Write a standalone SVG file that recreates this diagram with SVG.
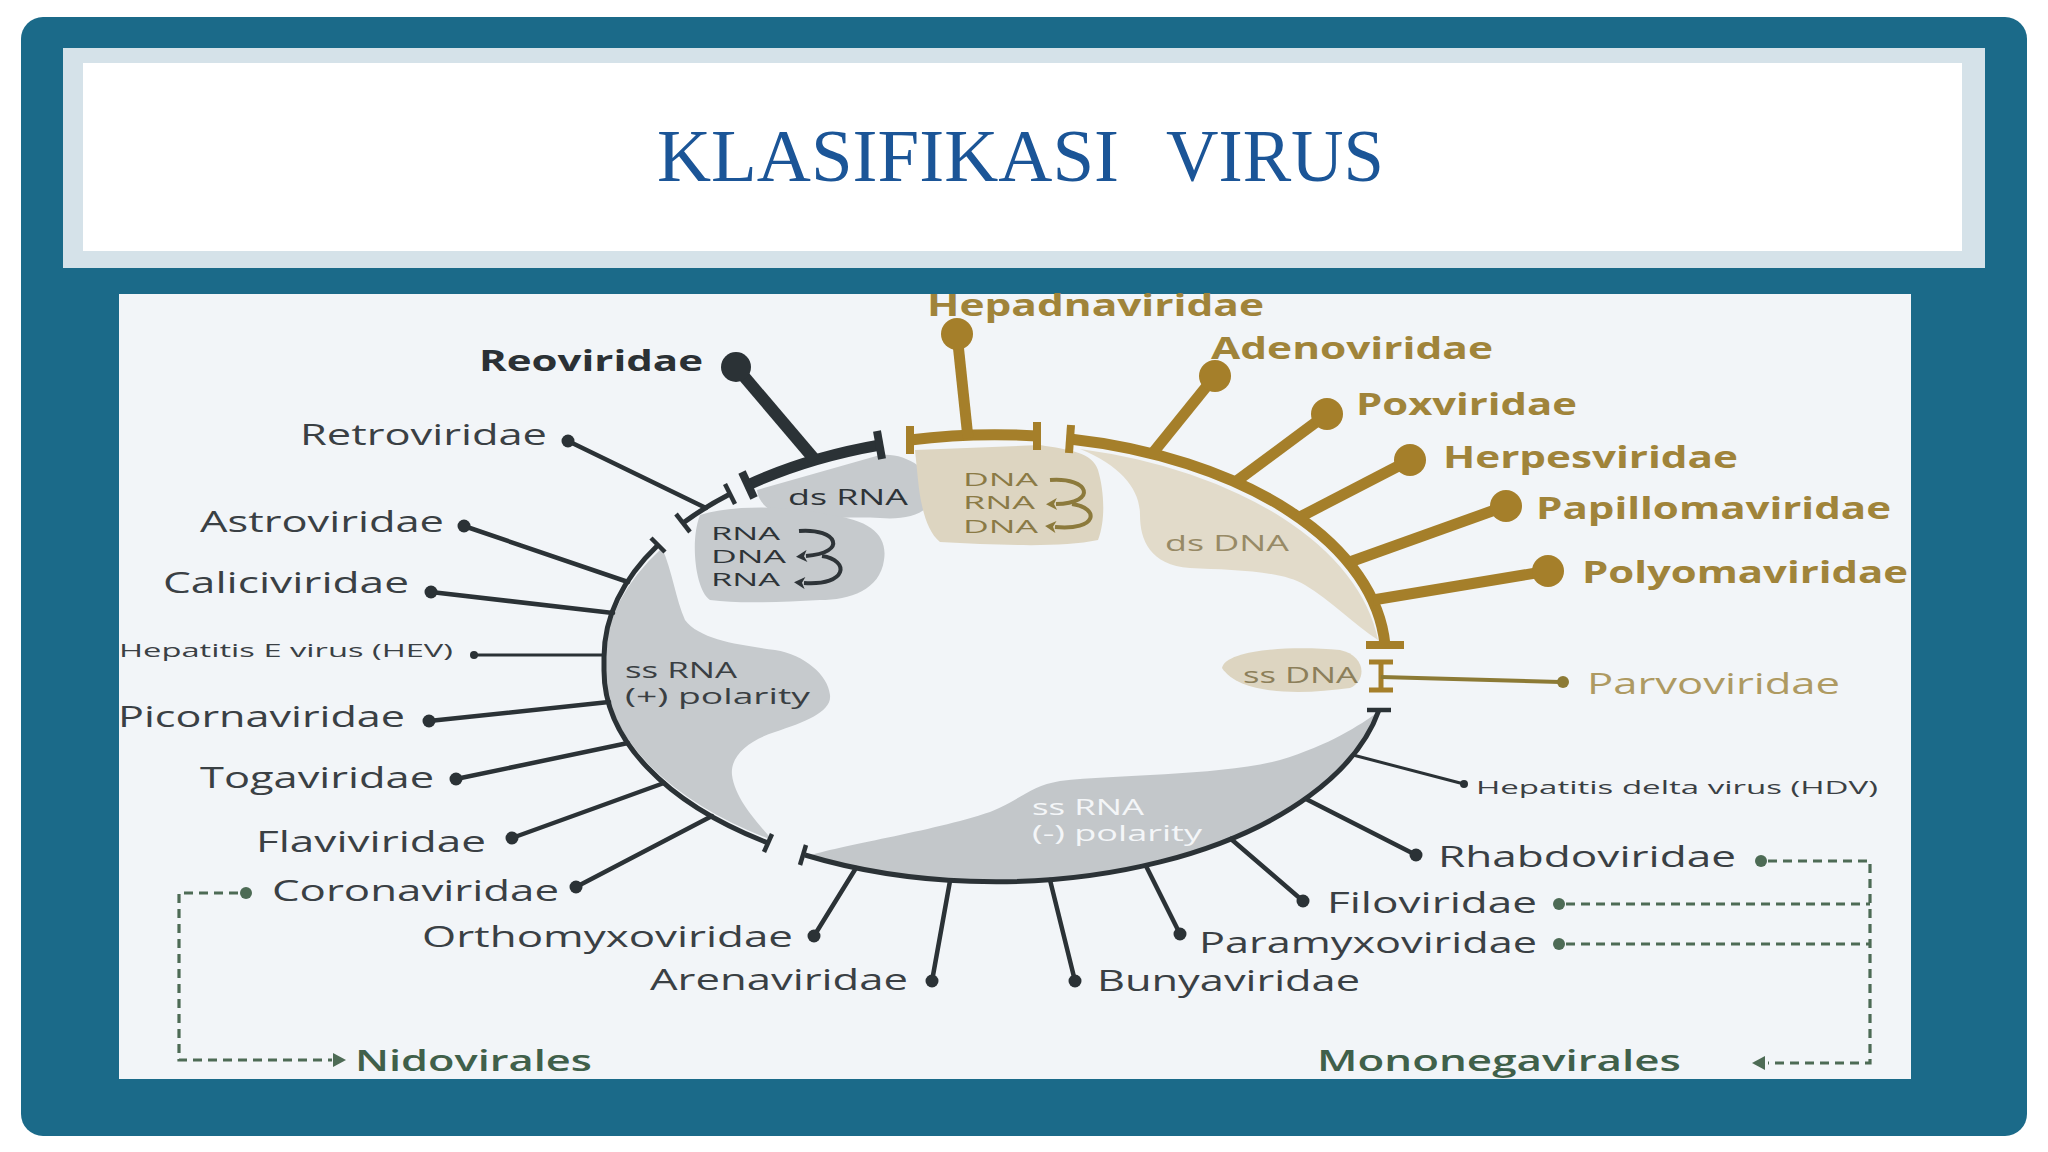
<svg xmlns="http://www.w3.org/2000/svg" width="2048" height="1152" viewBox="0 0 2048 1152">
<defs>
<style>
.lg{font-family:"Open Sans","DejaVu Sans",sans-serif;font-size:30px;font-weight:700;fill:#A0843A}
.ld{font-family:"Open Sans","DejaVu Sans",sans-serif;font-size:29px;font-weight:500;fill:#3A4044}
.ls{font-family:"Open Sans","DejaVu Sans",sans-serif;font-size:18px;font-weight:500;fill:#3A4044}
.lo{font-family:"Open Sans","DejaVu Sans",sans-serif;font-size:29px;font-weight:600;fill:#40604A}
.in{font-family:"Open Sans","DejaVu Sans",sans-serif;font-size:21px;font-weight:500}
.st{font-family:"Open Sans","DejaVu Sans",sans-serif;font-size:18.5px;font-weight:500}
.sd{stroke:#2B3236;stroke-width:4.5;fill:none;stroke-linecap:round}
.sg{stroke:#A57F2A;stroke-width:11;fill:none}
.bd{fill:#2B3236}
.bg{fill:#A57F2A}
.gr{fill:#4D6B55}
.dash{stroke:#4D6B55;stroke-width:3.2;fill:none;stroke-dasharray:9 6}
.ring{stroke:#2B3236;stroke-width:5;fill:none}
.tick{stroke:#2B3236;stroke-width:4.5;fill:none}
.gtick{stroke:#A57F2A;stroke-width:8;fill:none}
</style>
<marker id="ad" markerUnits="userSpaceOnUse" markerWidth="12" markerHeight="12" refX="2" refY="6" orient="auto"><path d="M0,6 L11,0 L8,6 L11,12 Z" fill="#2E3438" transform="rotate(180 6 6)"/></marker>
<marker id="ag" markerUnits="userSpaceOnUse" markerWidth="12" markerHeight="12" refX="2" refY="6" orient="auto"><path d="M0,6 L11,0 L8,6 L11,12 Z" fill="#8C7A3C" transform="rotate(180 6 6)"/></marker>
</defs>

<rect x="0" y="0" width="2048" height="1152" fill="#FFFFFF"/>
<rect x="21" y="17" width="2006" height="1119" rx="22" fill="#1B6A89"/>
<rect x="63" y="48" width="1922" height="220" fill="#D5E2E9"/>
<rect x="83" y="63" width="1879" height="188" fill="#FFFFFF"/>
<text x="657" y="181" font-family="Liberation Serif, serif" font-size="75" fill="#1B5597"><tspan x="657" textLength="462" lengthAdjust="spacingAndGlyphs">KLASIFIKASI</tspan><tspan x="1166" textLength="218" lengthAdjust="spacingAndGlyphs">VIRUS</tspan></text>

<rect x="119" y="294" width="1792" height="785" fill="#F2F5F8"/>

<g id="blobs">
<path d="M757,490 L880,455 C905,452 935,470 933,495 C930,515 905,520 880,518 C840,516 800,522 775,512 C765,508 758,500 757,490 Z" fill="#C6CACD"/>
<path d="M700,515 C730,505 790,505 830,515 C870,520 888,535 884,560 C880,590 850,600 820,600 C780,602 740,604 710,600 C695,590 690,540 700,515 Z" fill="#C6CACD"/>
<path d="M662,548 A391,222 0 0 0 604,657 L604,670 A391,212 0 0 0 772,840 C760,825 735,800 732,775 C730,755 750,740 775,732 C805,722 832,712 830,695 C828,675 805,655 775,650 C740,645 700,640 685,620 C676,600 672,570 662,548 Z" fill="#C6CACD"/>
<path d="M805,857 C840,845 930,832 990,812 C1020,800 1030,786 1060,781 C1120,774 1220,776 1280,760 C1330,745 1360,725 1378,712 A391,212 0 0 1 805,857 Z" fill="#C3C7CA"/>
<path d="M915,450 L1040,445 C1070,450 1092,452 1098,470 C1104,490 1106,520 1098,540 C1060,548 1000,545 940,542 C925,530 920,500 918,480 Z" fill="#DDD5C1"/>
<path d="M1080,449 A391,222 0 0 1 1378,640 C1355,625 1330,600 1305,585 C1280,570 1230,570 1190,568 C1150,565 1140,540 1140,515 C1140,490 1122,466 1080,449 Z" fill="#E2DBCA"/>
<path d="M1222,668 C1225,650 1290,645 1340,650 C1365,655 1368,680 1350,688 C1300,695 1240,695 1222,668 Z" fill="#DDD5C1"/>
</g>

<g id="ring">
<path class="ring" d="M658,545 A391,222 0 0 0 604,657 L604,670 A391,212 0 0 0 768,843"/>
<line class="tick" x1="651" y1="538" x2="665" y2="552"/>
<line class="tick" x1="764" y1="852" x2="772" y2="834"/>
<path class="ring" d="M683,523 A391,222 0 0 1 730,494"/>
<line class="tick" x1="676" y1="514" x2="690" y2="532"/>
<line class="tick" x1="725" y1="484" x2="735" y2="504"/>
<path d="M748,485 A391,222 0 0 1 880,445" stroke="#2B3236" stroke-width="11" fill="none"/>
<line x1="742" y1="472" x2="754" y2="498" stroke="#2B3236" stroke-width="8"/>
<line x1="877" y1="431" x2="882" y2="459" stroke="#2B3236" stroke-width="8"/>
<path d="M805,855 A391,212 0 0 0 1379,710" class="ring"/>
<line class="tick" x1="800" y1="865" x2="806" y2="845"/>
<line class="tick" x1="1367" y1="710" x2="1391" y2="710"/>
<path class="sg" d="M910,440 A391,222 0 0 1 1037,436"/>
<line class="gtick" x1="910" y1="426" x2="910" y2="454"/>
<line class="gtick" x1="1037" y1="422" x2="1037" y2="450"/>
<path class="sg" d="M1070,439 A391,222 0 0 1 1385,645"/>
<line class="gtick" x1="1071" y1="425" x2="1069" y2="453"/>
<line class="gtick" x1="1366" y1="645" x2="1404" y2="645"/>
<g stroke="#A57F2A" stroke-width="5" fill="none">
<line x1="1381" y1="662" x2="1381" y2="690"/>
<line x1="1369" y1="662" x2="1393" y2="662"/>
<line x1="1369" y1="690" x2="1393" y2="690"/>
</g>
</g>

<g id="connectors">
<line x1="815" y1="460" x2="736" y2="367" stroke="#2B3236" stroke-width="12"/>
<line class="sd" x1="706" y1="508" x2="568" y2="441"/>
<line class="sd" x1="628" y1="582" x2="464" y2="526"/>
<line class="sd" x1="613" y1="613" x2="431" y2="592"/>
<line class="sd" x1="604" y1="655" x2="474" y2="655" style="stroke-width:3"/>
<line class="sd" x1="609" y1="702" x2="429" y2="721"/>
<line class="sd" x1="628" y1="743" x2="456" y2="779"/>
<line class="sd" x1="664" y1="783" x2="512" y2="838"/>
<line class="sd" x1="712" y1="816" x2="576" y2="887"/>
<line class="sd" x1="856" y1="868" x2="814" y2="936"/>
<line class="sd" x1="950" y1="881" x2="932" y2="981"/>
<line class="sd" x1="1050" y1="880" x2="1075" y2="981"/>
<line class="sd" x1="1146" y1="866" x2="1180" y2="934"/>
<line class="sd" x1="1231" y1="839" x2="1303" y2="901"/>
<line class="sd" x1="1306" y1="799" x2="1416" y2="855"/>
<line class="sd" x1="1353" y1="755" x2="1464" y2="784" style="stroke-width:3"/>
<line class="sg" x1="968" y1="438" x2="957" y2="334"/>
<line class="sg" x1="1152" y1="454" x2="1215" y2="376"/>
<line class="sg" x1="1234" y1="483" x2="1327" y2="414"/>
<line class="sg" x1="1298" y1="518" x2="1410" y2="460"/>
<line class="sg" x1="1347" y1="563" x2="1506" y2="506"/>
<line class="sg" x1="1373" y1="600" x2="1548" y2="571"/>
<line x1="1381" y1="677" x2="1560" y2="682" stroke="#8C7A35" stroke-width="4"/>
<path class="dash" d="M238,893 H179 V1060 H332"/>
<path d="M333,1053 L346,1060 L333,1067 Z" class="gr"/>
<path class="dash" d="M1768,861 H1870 V1063 H1768"/>
<path class="dash" d="M1566,904 H1870"/>
<path class="dash" d="M1566,944 H1870"/>
<path d="M1765,1056 L1752,1063 L1765,1070 Z" class="gr"/>
</g>

<g id="inner-labels">
<text class="in" x="788" y="505" textLength="120" lengthAdjust="spacingAndGlyphs" style="fill:#2E3438">ds RNA</text>
<text class="st" x="711" y="540" textLength="69" lengthAdjust="spacingAndGlyphs" style="fill:#2E3438">RNA</text>
<text class="st" x="711" y="563" textLength="75" lengthAdjust="spacingAndGlyphs" style="fill:#2E3438">DNA</text>
<text class="st" x="711" y="586" textLength="69" lengthAdjust="spacingAndGlyphs" style="fill:#2E3438">RNA</text>
<path d="M799,531 C838,528 848,553 806,556" stroke="#2E3438" stroke-width="4" fill="none" marker-end="url(#ad)"/>
<path d="M822,556 C850,560 848,586 804,583" stroke="#2E3438" stroke-width="4" fill="none" marker-end="url(#ad)"/>
<text class="st" x="963" y="486" textLength="75" lengthAdjust="spacingAndGlyphs" style="fill:#8A7A45">DNA</text>
<text class="st" x="963" y="509" textLength="72" lengthAdjust="spacingAndGlyphs" style="fill:#8A7A45">RNA</text>
<text class="st" x="963" y="533" textLength="75" lengthAdjust="spacingAndGlyphs" style="fill:#8A7A45">DNA</text>
<path d="M1050,480 C1090,477 1098,503 1056,504" stroke="#8C7A3C" stroke-width="4" fill="none" marker-end="url(#ag)"/>
<path d="M1072,504 C1100,508 1098,531 1055,527" stroke="#8C7A3C" stroke-width="4" fill="none" marker-end="url(#ag)"/>
<text class="in" x="1165" y="551" textLength="124" lengthAdjust="spacingAndGlyphs" style="fill:#978A66;font-size:22px">ds DNA</text>
<text class="in" x="1243" y="683" textLength="115" lengthAdjust="spacingAndGlyphs" style="fill:#8C7F5A">ss DNA</text>
<text class="in" x="625" y="678" textLength="112" lengthAdjust="spacingAndGlyphs" style="fill:#3A3F43">ss RNA</text>
<text class="in" x="625" y="704" textLength="185" lengthAdjust="spacingAndGlyphs" style="fill:#3A3F43">(+) polarity</text>
<text class="in" x="1032" y="815" textLength="112" lengthAdjust="spacingAndGlyphs" style="fill:#F4F6F8">ss RNA</text>
<text class="in" x="1032" y="841" textLength="170" lengthAdjust="spacingAndGlyphs" style="fill:#F4F6F8">(-) polarity</text>
</g>

<g id="hepadnaviridae"><circle class="bg" cx="957" cy="334" r="16"/><text class="lg" x="927" y="316" textLength="337" lengthAdjust="spacingAndGlyphs">Hepadnaviridae</text></g>
<g id="adenoviridae"><circle class="bg" cx="1215" cy="376" r="16"/><text class="lg" x="1211" y="359" textLength="282" lengthAdjust="spacingAndGlyphs">Adenoviridae</text></g>
<g id="poxviridae"><circle class="bg" cx="1327" cy="414" r="16"/><text class="lg" x="1356" y="415" textLength="221" lengthAdjust="spacingAndGlyphs">Poxviridae</text></g>
<g id="herpesviridae"><circle class="bg" cx="1410" cy="460" r="16"/><text class="lg" x="1443" y="468" textLength="295" lengthAdjust="spacingAndGlyphs">Herpesviridae</text></g>
<g id="papillomaviridae"><circle class="bg" cx="1506" cy="506" r="16"/><text class="lg" x="1536" y="519" textLength="355" lengthAdjust="spacingAndGlyphs">Papillomaviridae</text></g>
<g id="polyomaviridae"><circle class="bg" cx="1548" cy="571" r="16"/><text class="lg" x="1582" y="583" textLength="326" lengthAdjust="spacingAndGlyphs">Polyomaviridae</text></g>
<g id="parvoviridae"><circle cx="1563" cy="682" r="6" fill="#8C7A35"/><text class="lg" x="1587" y="694" textLength="253" lengthAdjust="spacingAndGlyphs" style="font-weight:500;fill:#AE9A62">Parvoviridae</text></g>

<g id="reoviridae"><circle class="bd" cx="736" cy="367" r="15"/><text class="ld" x="479" y="371" textLength="224" lengthAdjust="spacingAndGlyphs" style="font-weight:700;fill:#2B3135">Reoviridae</text></g>
<g id="retroviridae"><circle class="bd" cx="568" cy="441" r="6.5"/><text class="ld" x="300" y="445" textLength="247" lengthAdjust="spacingAndGlyphs">Retroviridae</text></g>
<g id="astroviridae"><circle class="bd" cx="464" cy="526" r="6.5"/><text class="ld" x="200" y="532" textLength="244" lengthAdjust="spacingAndGlyphs">Astroviridae</text></g>
<g id="caliciviridae"><circle class="bd" cx="431" cy="592" r="6.5"/><text class="ld" x="163" y="593" textLength="246" lengthAdjust="spacingAndGlyphs">Caliciviridae</text></g>
<g id="hev"><circle class="bd" cx="474" cy="655" r="4"/><text class="ls" x="119" y="657" textLength="334" lengthAdjust="spacingAndGlyphs">Hepatitis E virus (HEV)</text></g>
<g id="picornaviridae"><circle class="bd" cx="429" cy="721" r="6.5"/><text class="ld" x="118" y="727" textLength="287" lengthAdjust="spacingAndGlyphs">Picornaviridae</text></g>
<g id="togaviridae"><circle class="bd" cx="456" cy="779" r="6.5"/><text class="ld" x="200" y="788" textLength="234" lengthAdjust="spacingAndGlyphs">Togaviridae</text></g>
<g id="flaviviridae"><circle class="bd" cx="512" cy="838" r="6.5"/><text class="ld" x="256" y="852" textLength="230" lengthAdjust="spacingAndGlyphs">Flaviviridae</text></g>
<g id="coronaviridae"><circle class="bd" cx="576" cy="887" r="6.5"/><circle class="gr" cx="246" cy="893" r="6"/><text class="ld" x="272" y="901" textLength="287" lengthAdjust="spacingAndGlyphs">Coronaviridae</text></g>
<g id="orthomyxoviridae"><circle class="bd" cx="814" cy="936" r="6.5"/><text class="ld" x="422" y="947" textLength="371" lengthAdjust="spacingAndGlyphs">Orthomyxoviridae</text></g>
<g id="arenaviridae"><circle class="bd" cx="932" cy="981" r="6.5"/><text class="ld" x="650" y="990" textLength="258" lengthAdjust="spacingAndGlyphs">Arenaviridae</text></g>
<g id="bunyaviridae"><circle class="bd" cx="1075" cy="981" r="6.5"/><text class="ld" x="1097" y="991" textLength="263" lengthAdjust="spacingAndGlyphs">Bunyaviridae</text></g>
<g id="paramyxoviridae"><circle class="bd" cx="1180" cy="934" r="6.5"/><circle class="gr" cx="1559" cy="944" r="6"/><text class="ld" x="1199" y="953" textLength="338" lengthAdjust="spacingAndGlyphs">Paramyxoviridae</text></g>
<g id="filoviridae"><circle class="bd" cx="1303" cy="901" r="6.5"/><circle class="gr" cx="1559" cy="904" r="6"/><text class="ld" x="1327" y="913" textLength="210" lengthAdjust="spacingAndGlyphs">Filoviridae</text></g>
<g id="rhabdoviridae"><circle class="bd" cx="1416" cy="855" r="6.5"/><circle class="gr" cx="1761" cy="861" r="6"/><text class="ld" x="1438" y="867" textLength="298" lengthAdjust="spacingAndGlyphs">Rhabdoviridae</text></g>
<g id="hdv"><circle class="bd" cx="1464" cy="784" r="4"/><text class="ls" x="1476" y="794" textLength="402" lengthAdjust="spacingAndGlyphs">Hepatitis delta virus (HDV)</text></g>
<g id="nidovirales"><text class="lo" x="355" y="1071" textLength="237" lengthAdjust="spacingAndGlyphs">Nidovirales</text></g>
<g id="mononegavirales"><text class="lo" x="1317" y="1071" textLength="364" lengthAdjust="spacingAndGlyphs">Mononegavirales</text></g>
</svg>
